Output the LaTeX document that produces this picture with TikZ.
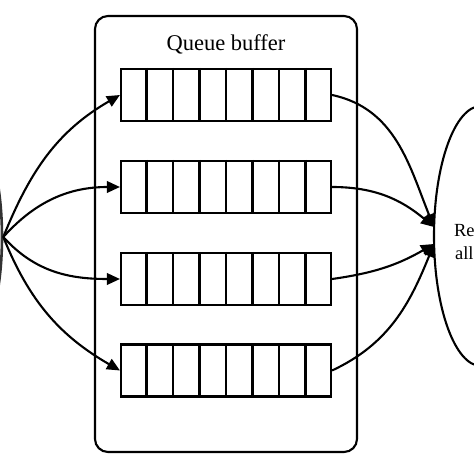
\documentclass[tikz,border=0pt]{standalone}
\usepackage{fontspec}
\setmainfont{Liberation Serif}
\usetikzlibrary{arrows.meta,calc,shapes.geometric}
\newcommand{\rfont}{\fontsize{18.5}{22}\selectfont}
\begin{document}
\begin{tikzpicture}[x=1pt,y=1pt,
  line width=2.1pt,
  qbox/.style={draw,rectangle,minimum width=210pt,minimum height=52pt,inner sep=0pt},
  ell/.style={draw,ellipse,minimum width=94pt,minimum height=260pt,inner sep=0pt},
  arr/.style={-{Triangle[length=13pt,width=11.5pt]}},
  lbl/.style={font=\fontsize{22.5}{26}\selectfont},
  rlbl/.style={anchor=west,inner sep=0pt}]
\useasboundingbox[fill=white] (0,0) rectangle (474,474);
\node[draw,rectangle,rounded corners=13pt,minimum width=262pt,minimum height=436pt] (buf) at (226,240) {};
\node[lbl] (title) at (226,430) {Queue buffer};
\foreach \n/\yy in {q1/379,q2/287,q3/195,q4/103.5}{
  \node[qbox] (\n) at (226,\yy) {};
  \foreach \i in {1,...,7}{
    \draw ($(\n.north west)!\i/8!(\n.north east)$) -- ($(\n.south west)!\i/8!(\n.south east)$);
  }
}
\node[ell,line width=2.6pt,draw=black!80] (src) at (-45,237) {};
\node[ell] (dst) at (481,238) {};
\node[rlbl] (dl1) at (453,243) {\rfont Re};
\node[rlbl] (dl2) at (454,221) {\rfont all};
\coordinate (inA) at ($(dst.west)+(1,9)$);
\coordinate (inB) at ($(dst.west)+(1,-8)$);
\draw[arr] (src.east) to[out=68,in=210] (q1.west);
\draw[arr] (src.east) to[out=48,in=180] (q2.west);
\draw[arr] (src.east) to[out=-48,in=180] (q3.west);
\draw[arr] (src.east) to[out=-68,in=150] (q4.west);
\draw[arr] (q1.east) to[out=-12,in=112] (inA);
\draw[arr] (q2.east) to[out=0,in=140] (inA);
\draw[arr] (q3.east) to[out=8,in=-150] (inB);
\draw[arr] (q4.east) to[out=25,in=-112] (inB);
\end{tikzpicture}
\end{document}
